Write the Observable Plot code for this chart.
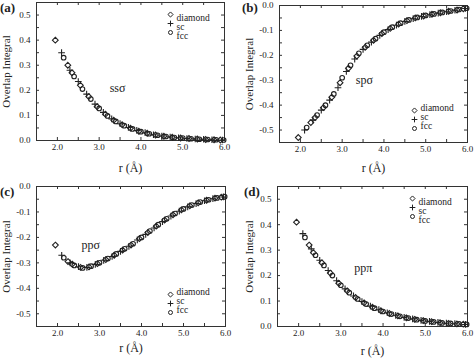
<!DOCTYPE html>
<html>
<head>
<meta charset="utf-8">
<script src="https://cdn.jsdelivr.net/npm/d3@7"></script>
<script src="https://cdn.jsdelivr.net/npm/@observablehq/plot@0.6"></script>
<style>
  html, body { margin: 0; padding: 0; background: #fff; }
  #wrap { position: relative; width: 474px; height: 358px; overflow: hidden; background: #fff; }
  .pan { position: absolute; }
  .plabel { position: absolute; font-family: "Liberation Serif", serif; font-weight: bold; font-size: 13px; color: #222; line-height: 1; }
</style>
</head>
<body>
<div id="wrap"></div>
<script>
// ---- data ----
const structures = ["diamond", "sc", "fcc"];
const rDiamond = [1.95, 2.25, 2.35, 2.55, 2.75, 2.95, 3.15, 3.35, 3.55, 3.75, 3.95, 4.15, 4.35, 4.55, 4.75, 4.95, 5.15, 5.35, 5.55, 5.75, 5.9];
const rSc      = [2.1, 2.3, 2.5, 2.7, 2.9, 3.1, 3.3, 3.5, 3.7, 3.9, 4.1, 4.3, 4.5, 4.7, 4.9, 5.1, 5.3, 5.5, 5.7, 5.95];
const rFcc     = [2.15, 2.4, 2.6, 2.8, 3.0, 3.2, 3.4, 3.6, 3.8, 4.0, 4.2, 4.4, 4.6, 4.8, 5.0, 5.2, 5.4, 5.6, 5.8, 5.98];

// (a) ss sigma
const ssDiamond = [0.40,0.30,0.27,0.22,0.175,0.135,0.105,0.081,0.063,0.049,0.037,0.029,0.022,0.017,0.013,0.010,0.008,0.006,0.004,0.003,0.002];
const ssSc      = [0.35,0.28,0.235,0.185,0.145,0.112,0.086,0.067,0.052,0.040,0.031,0.023,0.018,0.014,0.011,0.008,0.006,0.005,0.003,0.002];
const ssFcc     = [0.33,0.255,0.205,0.165,0.128,0.098,0.076,0.059,0.046,0.035,0.027,0.021,0.016,0.012,0.010,0.007,0.005,0.004,0.003,0.002];
// (b) sp sigma
const spDiamond = [-0.53,-0.47,-0.45,-0.41,-0.368,-0.31,-0.252,-0.203,-0.168,-0.14,-0.113,-0.092,-0.075,-0.061,-0.05,-0.042,-0.035,-0.029,-0.023,-0.018,-0.013];
const spSc      = [-0.50,-0.46,-0.42,-0.38,-0.33,-0.265,-0.215,-0.176,-0.147,-0.12,-0.097,-0.079,-0.064,-0.053,-0.044,-0.037,-0.031,-0.025,-0.019,-0.012];
const spFcc     = [-0.49,-0.44,-0.40,-0.355,-0.29,-0.24,-0.192,-0.16,-0.133,-0.107,-0.087,-0.071,-0.058,-0.048,-0.040,-0.034,-0.028,-0.022,-0.016,-0.011];
// (c) pp sigma
const ppsDiamond = [-0.23,-0.295,-0.305,-0.318,-0.316,-0.303,-0.287,-0.27,-0.25,-0.23,-0.205,-0.181,-0.156,-0.132,-0.111,-0.092,-0.076,-0.064,-0.054,-0.046,-0.042];
const ppsSc      = [-0.27,-0.30,-0.315,-0.318,-0.306,-0.29,-0.275,-0.255,-0.235,-0.21,-0.188,-0.163,-0.138,-0.116,-0.097,-0.08,-0.067,-0.056,-0.048,-0.041];
const ppsFcc     = [-0.28,-0.31,-0.32,-0.313,-0.30,-0.283,-0.265,-0.245,-0.225,-0.20,-0.175,-0.15,-0.127,-0.106,-0.088,-0.073,-0.061,-0.052,-0.045,-0.04];
// (d) pp pi
const pppDiamond = [0.41,0.32,0.29,0.25,0.21,0.17,0.14,0.114,0.093,0.076,0.062,0.051,0.042,0.034,0.028,0.023,0.019,0.015,0.012,0.010,0.009];
const pppSc      = [0.365,0.305,0.26,0.22,0.18,0.148,0.12,0.098,0.08,0.066,0.054,0.044,0.036,0.03,0.024,0.02,0.016,0.013,0.011,0.008];
const pppFcc     = [0.35,0.28,0.24,0.20,0.162,0.133,0.108,0.088,0.072,0.059,0.049,0.04,0.033,0.027,0.022,0.018,0.014,0.012,0.010,0.008];

const xDomain = [1.5, 6.0];
const xTickLabels = [2.0, 3.0, 4.0, 5.0, 6.0];
const xTickMarks = [2.0, 2.5, 3.0, 3.5, 4.0, 4.5, 5.0, 5.5];
const posDomain = [0, 0.55];
const negDomain = [-0.55, 0];
const posTickLabels = [0.0, 0.1, 0.2, 0.3, 0.4, 0.5];
const negTickLabels = [0.0, -0.1, -0.2, -0.3, -0.4, -0.5];
const posTickMarks = [0.05, 0.1, 0.15, 0.2, 0.25, 0.3, 0.35, 0.4, 0.45, 0.5];
const negTickMarks = [-0.05, -0.1, -0.15, -0.2, -0.25, -0.3, -0.35, -0.4, -0.45, -0.5];

const panelLetters = ["(a)", "(b)", "(c)", "(d)"];
const orbitalLabels = ["ssσ", "spσ", "ppσ", "ppπ"];
const orbitalLabelX = [3.44, 3.53, 2.79, 3.53];
const orbitalLabelY = [0.21, -0.30, -0.23, 0.23];
const xLabel = "r (Å)";
const yLabel = "Overlap Integral";

// ---- build ----
const symbols = {diamond: "diamond2", sc: "plus", fcc: "circle"};
const radii = {diamond: 2.6, sc: 2.3, fcc: 2.3};
const ink = "#222";
const font = "'Liberation Serif', 'DejaVu Serif', serif";

function series(ys) {
  return [
    rDiamond.map((r, i) => ({r, v: ys[0][i], s: "diamond"})),
    rSc.map((r, i) => ({r, v: ys[1][i], s: "sc"})),
    rFcc.map((r, i) => ({r, v: ys[2][i], s: "fcc"}))
  ];
}

function panel(cfg) {
  const W = 237, H = 180;
  const fw = W - cfg.ml - cfg.mr, fh = H - cfg.mt - cfg.mb;
  const data = series(cfg.ys);
  const marks = [
    Plot.frame({stroke: "#333", strokeWidth: 1}),
    Plot.axisX(xTickLabels, {tickSize: 0, tickPadding: 3, tickFormat: d => d.toFixed(1), fontSize: 9, label: null}),
    Plot.axisY(cfg.yTickLabels, {tickSize: 0, tickPadding: 6, tickFormat: d => d.toFixed(1), fontSize: 9, label: null}),
    Plot.axisX([], {tickSize: 0, fontSize: 12, label: xLabel, labelAnchor: "center", labelOffset: cfg.xlo, labelArrow: "none"}),
    Plot.axisY([], {tickSize: 0, fontSize: 11, label: yLabel, labelAnchor: "center", labelOffset: cfg.ylo, labelArrow: "none"}),
    Plot.tickX(xTickMarks, {x: d => d, insetTop: fh - 3, stroke: "#333"}),
    Plot.tickX(xTickMarks, {x: d => d, insetBottom: fh - 3, stroke: "#333"}),
    Plot.tickY(cfg.yTickMarks, {y: d => d, insetRight: fw - 3, stroke: "#333"}),
    Plot.tickY(cfg.yTickMarks, {y: d => d, insetLeft: fw - 3, stroke: "#333"})
  ];
  data.forEach(arr => {
    const s = arr[0].s;
    marks.push(Plot.dot(arr, {x: "r", y: "v", symbol: symbols[s], r: radii[s], stroke: ink, strokeWidth: 1.1}));
  });
  marks.push(Plot.text([orbitalLabels[cfg.i]], {x: () => orbitalLabelX[cfg.i], y: () => orbitalLabelY[cfg.i],
    text: d => d, fontSize: 12, fill: ink}));
  // legend
  structures.forEach((s, k) => {
    const dy = cfg.legTop ? 12 + k * 9 : -32 + k * 9;
    const fa = cfg.legTop ? "top-right" : "bottom-right";
    marks.push(Plot.dot([s], {frameAnchor: fa, dx: cfg.legDx, dy, symbol: symbols[s], r: radii[s] - 0.3, stroke: ink, strokeWidth: 1}));
    marks.push(Plot.text([s], {frameAnchor: fa, dx: cfg.legDx + 6, dy, text: d => d, textAnchor: "start", fontSize: 9.5, fill: ink}));
  });
  return Plot.plot({
    width: W, height: H,
    marginLeft: cfg.ml, marginRight: cfg.mr, marginTop: cfg.mt, marginBottom: cfg.mb,
    style: {fontFamily: font, fontSize: "9px", color: ink, background: "transparent", overflow: "visible"},
    x: {domain: xDomain},
    y: {domain: cfg.yDomain},
    marks
  });
}

const cfgs = [
  {i: 0, left: 0, top: 0, ml: 36, mr: 13, mt: 2, mb: 40, ys: [ssDiamond, ssSc, ssFcc], yDomain: posDomain,
   yTickLabels: posTickLabels, yTickMarks: posTickMarks, xlo: 31, ylo: 34, legTop: true, legDx: -54},
  {i: 1, left: 237, top: 0, ml: 42, mr: 7, mt: 5, mb: 38, ys: [spDiamond, spSc, spFcc], yDomain: negDomain,
   yTickLabels: negTickLabels, yTickMarks: negTickMarks, xlo: 29, ylo: 34, legTop: false, legDx: -53},
  {i: 2, left: 0, top: 178, ml: 36, mr: 12, mt: 8, mb: 32, ys: [ppsDiamond, ppsSc, ppsFcc], yDomain: negDomain,
   yTickLabels: negTickLabels, yTickMarks: negTickMarks, xlo: 25, ylo: 34, legTop: false, legDx: -55},
  {i: 3, left: 237, top: 178, ml: 40, mr: 7, mt: 8, mb: 32, ys: [pppDiamond, pppSc, pppFcc], yDomain: posDomain,
   yTickLabels: posTickLabels, yTickMarks: posTickMarks, xlo: 28, ylo: 32, legTop: true, legDx: -55}
];
const letterPos = [[0, 1], [242, 1], [0, 185], [244, 185]];

const wrap = document.getElementById("wrap");
cfgs.forEach((cfg, k) => {
  const div = document.createElement("div");
  div.className = "pan";
  div.style.left = cfg.left + "px";
  div.style.top = cfg.top + "px";
  div.appendChild(panel(cfg));
  wrap.appendChild(div);
  const lab = document.createElement("div");
  lab.className = "plabel";
  lab.style.left = letterPos[k][0] + "px";
  lab.style.top = letterPos[k][1] + "px";
  lab.textContent = panelLetters[k];
  wrap.appendChild(lab);
});
</script>
</body>
</html>
